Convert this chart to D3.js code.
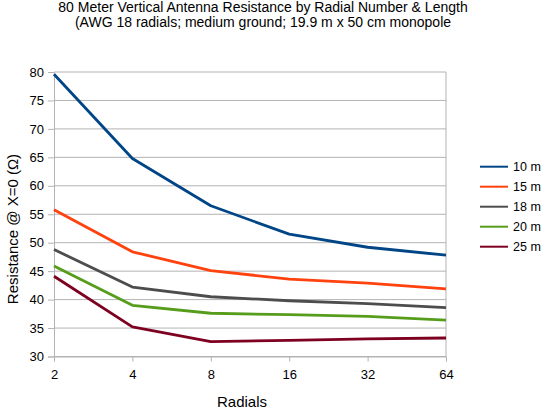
<!DOCTYPE html>
<html>
<head>
<meta charset="utf-8">
<script src="https://cdn.jsdelivr.net/npm/d3@7"></script>
<style>
  body { margin: 0; background: #fff; }
  svg { font-family: "Liberation Sans", Arial, sans-serif; }
</style>
</head>
<body>
<svg id="chart"></svg>
<script>
const radials = ['2', '4', '8', '16', '32', '64'];
const seriesNames = ['10 m', '15 m', '18 m', '20 m', '25 m'];
const r10 = [79.6, 64.8, 56.5, 51.5, 49.2, 47.8];
const r15 = [55.8, 48.4, 45.1, 43.6, 42.9, 41.9];
const r18 = [48.8, 42.2, 40.5, 39.8, 39.3, 38.6];
const r20 = [45.9, 39.0, 37.6, 37.35, 37.05, 36.4];
const r25 = [44.1, 35.2, 32.6, 32.85, 33.1, 33.25];
const yTicks = [30, 35, 40, 45, 50, 55, 60, 65, 70, 75, 80];

const colors = ['#004586', '#ff420e', '#4d4d4d', '#579d1c', '#7e0021'];
const series = [r10, r15, r18, r20, r25].map((vals, i) => ({
  name: seriesNames[i],
  color: colors[i],
  values: vals.map((v, j) => ({ x: radials[j], y: v }))
}));

const width = 541, height = 411;
const plot = { left: 54, right: 446, top: 72, bottom: 356.5 };

const svg = d3.select('#chart').attr('width', width).attr('height', height);

const x = d3.scalePoint().domain(radials).range([plot.left, plot.right]);
const y = d3.scaleLinear().domain([30, 80]).range([plot.bottom, plot.top]);

// grid
svg.append('g')
  .selectAll('line')
  .data(yTicks)
  .join('line')
  .attr('x1', plot.left)
  .attr('x2', plot.right)
  .attr('y1', d => y(d))
  .attr('y2', d => y(d))
  .attr('stroke', '#b3b3b3')
  .attr('stroke-width', 1);

svg.append('line')
  .attr('x1', plot.right).attr('x2', plot.right)
  .attr('y1', plot.top).attr('y2', plot.bottom)
  .attr('stroke', '#b3b3b3');

const yAxis = svg.append('g')
  .attr('transform', `translate(${plot.left},0)`)
  .call(d3.axisLeft(y).tickValues(yTicks).tickSize(6).tickPadding(4));

const xAxis = svg.append('g')
  .attr('transform', `translate(0,${plot.bottom})`)
  .call(d3.axisBottom(x).tickSize(5).tickPadding(8));

[yAxis, xAxis].forEach(g => {
  g.selectAll('path, line').attr('stroke', '#b3b3b3');
  g.selectAll('text').attr('fill', '#000').style('font-size', '13px')
    .style('font-family', '"Liberation Sans", Arial, sans-serif');
});

// lines
const line = d3.line().x(d => x(d.x)).y(d => y(d.y));

svg.append('g')
  .selectAll('path')
  .data(series)
  .join('path')
  .attr('d', d => line(d.values))
  .attr('fill', 'none')
  .attr('stroke', d => d.color)
  .attr('stroke-width', 2.8)
  .attr('stroke-linejoin', 'round');

// legend
const legend = svg.append('g')
  .selectAll('g')
  .data(series)
  .join('g')
  .attr('transform', (d, i) => `translate(480,${166.7 + i * 20})`);

legend.append('line')
  .attr('x1', 0).attr('x2', 28)
  .attr('stroke', d => d.color)
  .attr('stroke-width', 2);

legend.append('text')
  .attr('x', 33)
  .attr('dy', '0.35em')
  .style('font-size', '12.5px')
  .text(d => d.name);

// titles
svg.append('text')
  .attr('x', 263).attr('y', 12)
  .attr('text-anchor', 'middle')
  .style('font-size', '14px')
  .text('80 Meter Vertical Antenna Resistance by Radial Number & Length');

svg.append('text')
  .attr('x', 263).attr('y', 27)
  .attr('text-anchor', 'middle')
  .style('font-size', '14px')
  .text('(AWG 18 radials; medium ground; 19.9 m x 50 cm monopole');

svg.append('text')
  .attr('x', 242).attr('y', 407)
  .attr('text-anchor', 'middle')
  .style('font-size', '15px')
  .text('Radials');

svg.append('text')
  .attr('transform', 'translate(18,229) rotate(-90)')
  .attr('text-anchor', 'middle')
  .style('font-size', '15px')
  .text('Resistance @ X=0 (Ω)');
</script>
</body>
</html>
